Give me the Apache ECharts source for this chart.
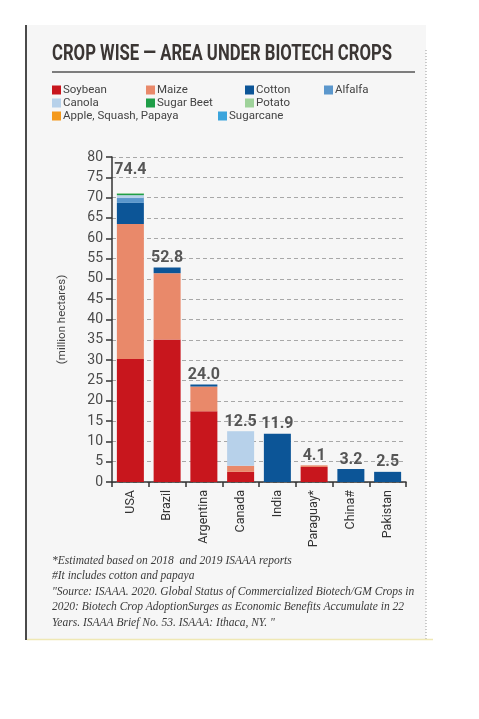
<!DOCTYPE html>
<html><head><meta charset="utf-8">
<script src="https://cdn.jsdelivr.net/npm/echarts@6/dist/echarts.min.js"></script>
<style>html,body{margin:0;padding:0;background:#fff}#c{width:479px;height:719px}</style>
</head><body><div id="c"></div>
<script>
const countries = ['USA','Brazil','Argentina','Canada','India','Paraguay*','China#','Pakistan'];
const totals = [74.4, 52.8, 24.0, 12.5, 11.9, 4.1, 3.2, 2.5];
const soybean   = [30.3, 35.1, 17.4, 2.5, 0, 3.7, 0, 0];
const maize     = [33.2, 16.3, 6.1, 1.5, 0, 0.4, 0, 0];
const cotton    = [5.2, 1.4, 0.5, 0, 11.9, 0, 3.2, 2.5];
const alfalfa   = [1.2, 0, 0, 0, 0, 0, 0, 0];
const canola    = [0.7, 0, 0, 8.5, 0, 0, 0, 0];
const sugarBeet = [0.4, 0, 0, 0, 0, 0, 0, 0];
const potato    = [0.1, 0, 0, 0, 0, 0, 0, 0];
const appleSquashPapaya = [0, 0, 0, 0, 0, 0, 0, 0];
const sugarcane = [0, 0, 0, 0, 0, 0, 0, 0];
const yTicks = [0,5,10,15,20,25,30,35,40,45,50,55,60,65,70,75,80];
const titleText = 'CROP WISE — AREA UNDER BIOTECH CROPS';

const crops = [
  {name:'Soybean', data:soybean, color:'#c8161d'},
  {name:'Maize', data:maize, color:'#e9896a'},
  {name:'Cotton', data:cotton, color:'#0c5597'},
  {name:'Alfalfa', data:alfalfa, color:'#5b97cc'},
  {name:'Canola', data:canola, color:'#b7d1ea'},
  {name:'Sugar Beet', data:sugarBeet, color:'#1f9e48'},
  {name:'Potato', data:potato, color:'#9ed29a'},
  {name:'Apple, Squash, Papaya', data:appleSquashPapaya, color:'#f4991c'},
  {name:'Sugarcane', data:sugarcane, color:'#3ba4dc'}
];
const legendPos = [[52,84],[146,84],[245,84],[324,84],[52,97],[146,97],[245,97],[52,110],[218,110]];
const SANS = "Roboto,sans-serif";

// fit title to the reference width
const titleFont = "bold 22px Roboto";
const ctx = document.createElement('canvas').getContext('2d');
ctx.font = titleFont;
const titleScale = 340 / ctx.measureText(titleText).width;

const chart = echarts.init(document.getElementById('c'), null, {renderer:'canvas'});
const series = crops.map(c => ({
  name:c.name, type:'bar', stack:'t', data:c.data, barWidth:27,
  itemStyle:{color:c.color}
}));
series.push({
  name:'total', type:'scatter', data:totals, symbolSize:1,
  itemStyle:{color:'rgba(0,0,0,0)'}, z:5,
  label:{show:true, position:'top', distance:1, formatter:p=>p.value.toFixed(1),
    fontSize:16, fontWeight:'bold', color:'#2e2e2e', fontFamily:SANS}
});

chart.setOption({
  animation:false,
  backgroundColor:'#ffffff',
  graphic:[
    {type:'rect', shape:{x:27,y:25,width:399,height:614}, style:{fill:'#f6f6f6'}, z:-10},
    {type:'line', shape:{x1:26,y1:25,x2:26,y2:640}, style:{stroke:'#4a4a4a', lineWidth:2}},
    {type:'line', shape:{x1:426,y1:50,x2:426,y2:639}, style:{stroke:'#9a9a9a', lineWidth:1, lineDash:[1,2]}},
    {type:'line', shape:{x1:27,y1:639.5,x2:433,y2:639.5}, style:{stroke:'#efe8b4', lineWidth:1.5}},
    {type:'text', x:52, y:54, scaleX:titleScale, scaleY:1,
      style:{text:titleText, fill:'#3b3634', font:titleFont, textVerticalAlign:'middle', verticalAlign:'middle'}},
    {type:'line', shape:{x1:52,y1:72,x2:415,y2:72}, style:{stroke:'#555', lineWidth:1.5}},
    {type:'text', left:52, top:553, style:{
      text:'*Estimated based on 2018  and 2019 ISAAA reports\n#It includes cotton and papaya\n"Source: ISAAA. 2020. Global Status of Commercialized Biotech/GM Crops in\n2020: Biotech Crop AdoptionSurges as Economic Benefits Accumulate in 22\nYears. ISAAA Brief No. 53. ISAAA: Ithaca, NY. "',
      fill:'#3a3a3a', font:"italic 11.5px 'Liberation Serif',serif", lineHeight:15.5}}
  ],
  legend: crops.map((c,i)=>({
    data:[c.name], left:legendPos[i][0], top:legendPos[i][1], selectedMode:false,
    itemWidth:9, itemHeight:9, itemGap:4, icon:'rect', padding:0,
    textStyle:{fontSize:11.5, color:'#444', fontFamily:SANS, padding:[0,0,0,-3]}
  })),
  grid:{left:112, right:73, top:157, bottom:237, containLabel:false},
  xAxis:{
    type:'category', data:countries,
    axisLine:{lineStyle:{color:'#333', width:1.5}},
    axisTick:{show:true, length:5, lineStyle:{color:'#333', width:1.5}},
    axisLabel:{rotate:90, fontSize:12.5, color:'#333', margin:8, fontFamily:SANS}
  },
  yAxis:{
    type:'value', min:0, max:80, interval:5,
    name:'(million hectares)', nameLocation:'middle', nameRotate:90, nameGap:44,
    nameTextStyle:{fontSize:11.5, color:'#444', fontFamily:SANS},
    axisLine:{show:true, lineStyle:{color:'#333', width:1.5}},
    axisTick:{show:true, length:6, lineStyle:{color:'#333', width:1.5}},
    axisLabel:{fontSize:14, color:'#4a4a4a', margin:9, fontFamily:SANS,
      formatter:v=>yTicks.includes(v)?String(v):''},
    splitLine:{show:true, lineStyle:{color:'#a8a8a8', type:[4,3], width:1}}
  },
  series:series
});
</script></body></html>
